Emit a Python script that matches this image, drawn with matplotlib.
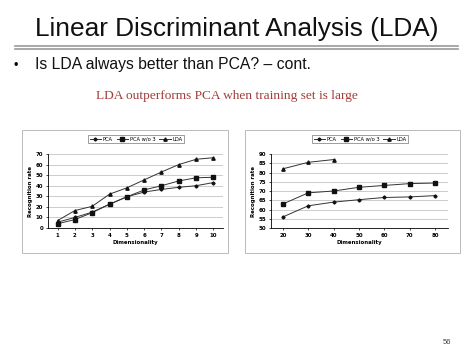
import matplotlib.pyplot as plt
from matplotlib.patches import Rectangle
from matplotlib.lines import Line2D

# left chart: small dimensionality
dims_small = [1, 2, 3, 4, 5, 6, 7, 8, 9, 10]
pca_small = [5.5, 10, 15, 22.5, 29.5, 34, 36.5, 38.5, 40, 43]
pca_wo3_small = [4, 8, 14.5, 22.5, 29.5, 36, 40, 44.5, 47.5, 48]
lda_small = [7, 16.5, 20.5, 32, 38, 45.5, 53, 60, 65, 66.5]

# right chart: large dimensionality
dims_large = [20, 30, 40, 50, 60, 70, 80]
pca_large = [56, 62, 64, 65.3, 66.5, 66.8, 67.5]
pca_wo3_large = [63, 69, 70, 72, 73, 74, 74.3]
lda_large_dims = [20, 30, 40]
lda_large = [82, 85.5, 87]

series_names = ["PCA", "PCA w/o 3", "LDA"]

W, H = 474, 355
fig = plt.figure(figsize=(W / 100, H / 100), dpi=100)
fig.patch.set_facecolor("white")


def px(x, y, w, h):
    # pixel box (top-left origin) -> figure fraction
    return [x / W, 1 - (y + h) / H, w / W, h / H]


# header
fig.text(237 / W, 1 - 29 / H, "Linear Discriminant Analysis (LDA)", ha="center", va="center",
         fontsize=18.9, family="Liberation Sans", color="#111111")
fig.add_artist(Line2D([15 / W, 458 / W], [1 - 45.5 / H] * 2, color="#9a9a9a", lw=1.2))
fig.add_artist(Line2D([15 / W, 458 / W], [1 - 48.5 / H] * 2, color="#9a9a9a", lw=1.2))
fig.text(13 / W, 1 - 66 / H, "•", ha="left", va="center", fontsize=9, family="Liberation Sans")
fig.text(35 / W, 1 - 65 / H, "Is LDA always better than PCA? – cont.", ha="left", va="center",
         fontsize=11.3, family="Liberation Sans", color="#111111")
fig.text(227 / W, 1 - 96 / H, "LDA outperforms PCA when training set is large", ha="center",
         va="center", fontsize=9.6, family="Liberation Serif", color="#a23c38")
fig.text(447 / W, 1 - 343 / H, "56", ha="center", va="center", fontsize=5.5,
         family="Liberation Sans", color="#444444")

styles = [dict(marker="D", ms=1.6), dict(marker="s", ms=2.2), dict(marker="^", ms=2.4)]


def draw_chart(box, axbox, legbox, xs_list, ys_list, yticks, xticks):
    fig.add_artist(Rectangle((box[0] / W, 1 - (box[1] + box[3]) / H), box[2] / W, box[3] / H,
                             transform=fig.transFigure, fill=False, ec="#b0b0b0", lw=0.6))
    ax = fig.add_axes(px(*axbox))
    for xs, ys, st in zip(xs_list, ys_list, styles):
        ax.plot(xs, ys, color="#333333", lw=0.7, mfc="#111111", mec="#111111", **st)
    ax.set_ylim(yticks[0], yticks[-1])
    ax.set_yticks(yticks)
    ax.set_xticks(xticks)
    ax.grid(axis="y", color="#b8b8b8", lw=0.5)
    ax.set_axisbelow(True)
    for s in ["top", "right"]:
        ax.spines[s].set_visible(False)
    for s in ["left", "bottom"]:
        ax.spines[s].set_linewidth(0.6)
    ax.tick_params(length=1.5, width=0.5, pad=1.8, labelsize=3.9)
    for lab in ax.get_xticklabels() + ax.get_yticklabels():
        lab.set_fontweight("bold")
    ax.set_xlabel("Dimensionality", fontsize=3.9, fontweight="bold", labelpad=2)
    ax.set_ylabel("Recognition rate", fontsize=3.9, fontweight="bold", labelpad=2)
    handles = [Line2D([], [], color="#333333", lw=0.7, mfc="#111111", mec="#111111", **st)
               for st in styles]
    ax.legend(handles, series_names, loc="center", ncol=3, fontsize=3.7, frameon=True,
              fancybox=False, edgecolor="#555555", handlelength=2.2, columnspacing=0.8,
              handletextpad=0.3, borderpad=0.3,
              bbox_to_anchor=((legbox[0] - axbox[0]) / axbox[2],
                              1 + (axbox[1] - legbox[1]) / axbox[3]))
    ax.get_legend().get_frame().set_linewidth(0.5)
    return ax


ax1 = draw_chart((22, 130, 206, 123), (48, 154, 175, 74), (136, 139),
                 [dims_small, dims_small, dims_small],
                 [pca_small, pca_wo3_small, lda_small],
                 list(range(0, 71, 10)), dims_small)
ax1.set_xlim(0.45, 10.55)

ax2 = draw_chart((245, 130, 215, 123), (271, 154, 177, 74), (360, 139),
                 [dims_large, dims_large, lda_large_dims],
                 [pca_large, pca_wo3_large, lda_large],
                 list(range(50, 91, 5)), dims_large)
ax2.set_xlim(15.3, 85.1)

fig.savefig("out.png", dpi=100)
